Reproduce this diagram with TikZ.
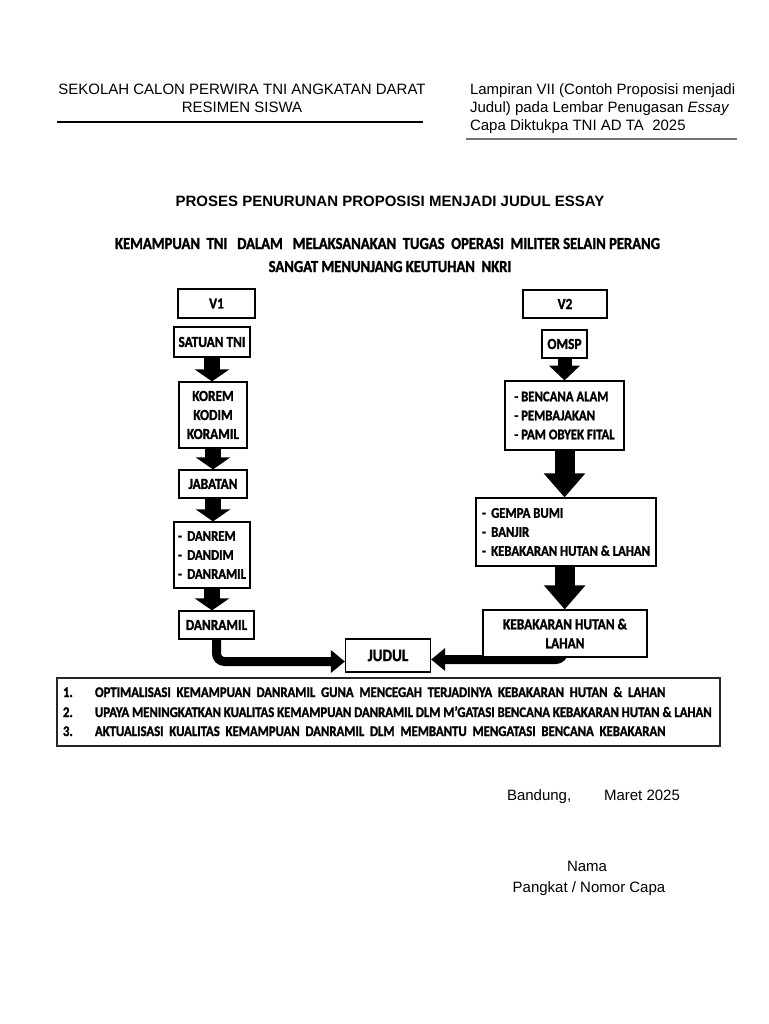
\documentclass[tikz,border=0pt]{standalone}
\usepackage{fontspec}
\setmainfont{Liberation Sans}
\newfontfamily\boxfont{Carlito}[FakeStretch=0.87, BoldFeatures={FakeBold=1.5}]
\usetikzlibrary{arrows.meta,backgrounds}

\begin{document}
\begin{tikzpicture}[
        x=0.75pt, y=-0.75pt,
        font=\fontsize{11.25}{13.5}\selectfont,
        txt/.style={inner sep=0pt, outer sep=0pt},
        box/.style={draw, line width=0.9pt, fill=white, inner sep=0pt, align=center,
            font=\boxfont\bfseries\fontsize{11.5}{14.25}\selectfont},
        listbox/.style={box, align=left, font=\boxfont\bfseries\fontsize{11}{14.25}\selectfont},
        heavy/.style={txt, font=\boxfont\bfseries\fontsize{12.6}{14}\selectfont},
        item/.style={txt, font=\boxfont\bfseries\fontsize{11}{14}\selectfont},
        downarrow/.style={line width=12pt, -{Triangle[width=25.5pt, length=9pt]}},
        omsparrow/.style={line width=10.5pt, -{Triangle[width=22.5pt, length=11pt]}},
        bigarrow/.style={line width=15pt, -{Triangle[width=30pt, length=18pt]}},
        joinarrow/.style={line width=6.75pt, rounded corners=6pt, -{Triangle[width=16.5pt, length=10.5pt]}}
    ]

    \useasboundingbox (0,0) rectangle (768,1024);

    % kop surat
    \node[txt, anchor=base] (school1) at (242,94.4) {SEKOLAH CALON PERWIRA TNI ANGKATAN DARAT};
    \node[txt, anchor=base] (school2) at (242,112.4) {RESIMEN SISWA};
    \draw[line width=0.8pt] (57,122) -- (423,122);

    \node[txt, anchor=base west] (lamp1) at (470,94.4) {Lampiran VII (Contoh Proposisi menjadi};
    \node[txt, anchor=base west] (lamp2) at (470,112.4) {Judul) pada Lembar Penugasan \textit{Essay}};
    \node[txt, anchor=base west] (lamp3) at (470,130.4) {Capa Diktukpa TNI AD TA~~2025};
    \draw[line width=1.2pt, black!55] (466,139) -- (737,139);

    % judul halaman
    \node[txt, anchor=base, font=\bfseries\fontsize{11.25}{13.5}\selectfont] (title) at (390,206.4) {PROSES PENURUNAN PROPOSISI MENJADI JUDUL ESSAY};
    \node[heavy, anchor=base] (theme1) at (387.5,249) {KEMAMPUAN~~TNI~~~DALAM~~~MELAKSANAKAN~~TUGAS~~OPERASI~~MILITER SELAIN PERANG};
    \node[heavy, anchor=base] (theme2) at (390,272) {SANGAT MENUNJANG KEUTUHAN~~NKRI};

    % variabel 1
    \node[box, minimum width=57.75pt, minimum height=21.75pt] (v1) at (216.5,303.5) {V1};
    \node[box, minimum width=57pt, minimum height=22.5pt] (satuan) at (212,342) {SATUAN TNI};
    \node[box, minimum width=51pt, minimum height=49.5pt] (korem) at (213,415) {KOREM\\KODIM\\KORAMIL};
    \node[box, minimum width=51pt, minimum height=21pt] (jabatan) at (213,484) {JABATAN};
    \node[listbox, minimum width=57pt, minimum height=49.5pt] (danrem) at (212,555) {-\hspace{4pt}DANREM\\-\hspace{4pt}DANDIM\\-\hspace{4pt}DANRAMIL};
    \node[box, minimum width=56.25pt, minimum height=21pt] (danramil) at (216.5,625) {DANRAMIL};

    \draw[downarrow] (satuan.south) -- (satuan.south |- korem.north);
    \draw[downarrow] (korem.south) -- (korem.south |- jabatan.north);
    \draw[downarrow] (jabatan.south) -- (jabatan.south |- danrem.north);
    \draw[downarrow] (danrem.south) -- (danrem.south |- danramil.north);

    % variabel 2
    \node[box, minimum width=63pt, minimum height=21pt] (v2) at (565,304) {V2};
    \node[box, minimum width=33.75pt, minimum height=21pt] (omsp) at (564.5,344) {OMSP};
    \node[listbox, minimum width=89.25pt, minimum height=51.75pt] (bencana) at (564.5,415.5) {- BENCANA ALAM\\- PEMBAJAKAN\\- PAM OBYEK FITAL};
    \node[listbox, minimum width=135pt, minimum height=51pt] (gempa) at (566,532) {-\hspace{4pt}GEMPA BUMI\\-\hspace{4pt}BANJIR\\-\hspace{4pt}KEBAKARAN HUTAN \& LAHAN};
    \node[box, minimum width=123pt, minimum height=35.25pt] (kebakaran) at (565,633.5) {KEBAKARAN HUTAN \&\\LAHAN};

    \draw[omsparrow] (omsp.south) -- (omsp.south |- bencana.north);
    \draw[bigarrow] (bencana.south) -- (bencana.south |- gempa.north);
    \draw[bigarrow] ([xshift=-1pt]gempa.south) -- ([xshift=-1pt]gempa.south |- kebakaran.north);

    % judul essay
    \node[box, minimum width=63.75pt, minimum height=24.75pt, font=\boxfont\bfseries\fontsize{13}{14}\selectfont] (judul) at (388,655.5) {JUDUL};
    \begin{scope}[on background layer]
        \draw[joinarrow] (danramil.south) |- ([yshift=-4.5pt]judul.west);
        \draw[joinarrow] ([xshift=-1pt,yshift=8pt]kebakaran.south) |- ([yshift=-3pt]judul.east);
    \end{scope}

    % alternatif judul
    \node[box, minimum width=497.25pt, minimum height=51pt, line width=1pt, draw=black!85] (options) at (388.5,712) {};
    \node[item, anchor=base west] (num1) at (63,697) {1.};
    \node[item, anchor=base west] (num2) at (63,717) {2.};
    \node[item, anchor=base west] (num3) at (63,736) {3.};
    \node[item, anchor=base west] (opt1) at (95,697) {OPTIMALISASI~~KEMAMPUAN~~DANRAMIL~~GUNA~~MENCEGAH~~TERJADINYA~~KEBAKARAN~~HUTAN~~\&~~LAHAN};
    \node[item, anchor=base west] (opt2) at (95,717) {UPAYA MENINGKATKAN KUALITAS KEMAMPUAN DANRAMIL DLM M’GATASI BENCANA KEBAKARAN HUTAN \& LAHAN};
    \node[item, anchor=base west] (opt3) at (95,736) {AKTUALISASI~~KUALITAS~~KEMAMPUAN~~DANRAMIL~~DLM~~MEMBANTU~~MENGATASI~~BENCANA~~KEBAKARAN};

    % tanda tangan
    \node[txt, anchor=base west] (bandung) at (507,800) {Bandung,};
    \node[txt, anchor=base west] (maret) at (604,800) {Maret 2025};
    \node[txt, anchor=base] (nama) at (587,871) {Nama};
    \node[txt, anchor=base] (pangkat) at (589,892) {Pangkat / Nomor Capa};
\end{tikzpicture}
\end{document}
